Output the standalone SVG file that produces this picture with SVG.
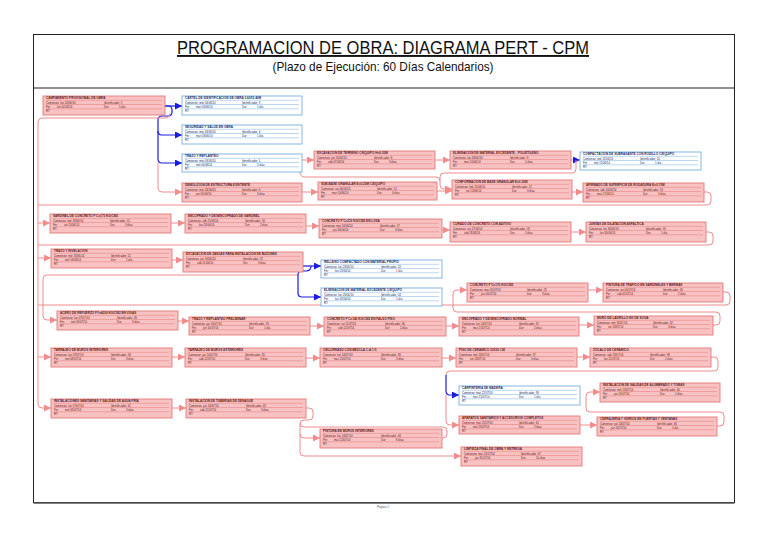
<svg xmlns="http://www.w3.org/2000/svg" width="768" height="543" viewBox="0 0 768 543">
<style>
text{font-family:"Liberation Sans",Arial,sans-serif;font-size:2.8px;fill:#5a1a1a}
.t{font-weight:bold;font-size:3.1px}
.r rect{fill:#f8c2c2;stroke:#e47a7a;stroke-width:0.9}
.r path{fill:none;stroke:#e47a7a;stroke-width:0.5}
.b rect{fill:#ffffff;stroke:#7aaee0;stroke-width:0.9}
.b path{fill:none;stroke:#7aaee0;stroke-width:0.5}
.b text{fill:#1a2a5a}
.p{fill:none;stroke:#f08c8c;stroke-width:1}
.q{fill:none;stroke:#1c1ce0;stroke-width:1.2}
.frame{fill:none;stroke:#222;stroke-width:1}
</style>
<defs>
<marker id="ap" markerUnits="userSpaceOnUse" markerWidth="8" markerHeight="8" refX="7" refY="3.5" orient="auto"><path d="M0 0L7 3.5L0 7z" fill="#f08c8c"/></marker>
<marker id="ab" markerUnits="userSpaceOnUse" markerWidth="8" markerHeight="8" refX="7" refY="3.5" orient="auto"><path d="M0 0L7 3.5L0 7z" fill="#1c1ce0"/></marker>
</defs>
<rect x="0" y="0" width="768" height="543" fill="#ffffff"/>
<rect class="frame" x="33.5" y="34.5" width="701" height="468"/>
<line x1="33.5" y1="88" x2="734.5" y2="88" stroke="#222" stroke-width="1.2"/>
<line x1="33.5" y1="503" x2="734.5" y2="503" stroke="#555" stroke-width="1.6"/>
<text x="383" y="54" text-anchor="middle" style="font-size:19px;fill:#111" textLength="412" lengthAdjust="spacingAndGlyphs" text-decoration="underline">PROGRAMACION DE OBRA: DIAGRAMA PERT - CPM</text>
<text x="383" y="71" text-anchor="middle" style="font-size:13px;fill:#111" textLength="221" lengthAdjust="spacingAndGlyphs">(Plazo de Ejecución: 60 Días Calendarios)</text>
<text x="383" y="508" text-anchor="middle" style="font-size:3px;fill:#555">Página 1</text>

<g id="connectors">
<path class="q" d="M165 106H182" marker-end="url(#ab)"/>
<path class="q" d="M165 106H168Q172 106 172 110V112Q172 116 168 116H162Q158 116 158 120V159Q158 163 162 163H182" marker-end="url(#ab)"/>
<path class="q" d="M158 131Q158 135 162 135H182" marker-end="url(#ab)"/>
<path class="p" d="M158 163V188Q158 192 162 192H182" marker-end="url(#ap)"/>
<path class="p" d="M170 113Q170 118 165 118H42Q38 118 38 122V404Q38 408 42 408H51" marker-end="url(#ap)"/>
<path class="p" d="M38 223H50" marker-end="url(#ap)"/>
<path class="p" d="M38 258H51" marker-end="url(#ap)"/>
<path class="p" d="M38 357H51" marker-end="url(#ap)"/>
<path class="p" d="M704 192H707Q711 192 711 196V201Q711 205 707 205H38"/>
<path class="p" d="M706 232H709Q713 232 713 236V241Q713 245 709 245H38"/>
<path class="p" d="M723 292H726Q730 292 730 296V301Q730 305 726 305H38"/>
<path class="p" d="M298 275H47Q43 275 43 279V316Q43 320 47 320H57" marker-end="url(#ap)"/>
<path class="p" d="M713 325H716Q720 325 720 321V316Q720 312 716 312H457Q453 312 453 308V294Q453 290 457 290H467" marker-end="url(#ap)"/>
<path class="p" d="M711 357H714Q718 357 718 361V367Q718 371 714 371H450Q446 371 446 375"/>
<path class="q" d="M446 375V391Q446 395 450 395H459" marker-end="url(#ab)"/>
<path class="p" d="M446 395V421Q446 425 450 425H459" marker-end="url(#ap)"/>
<path class="p" d="M717 426H720Q724 426 724 422V416Q724 412 720 412H590Q586 412 586 408V396Q586 392 590 392H600" marker-end="url(#ap)"/>
<path class="p" d="M306 408H309Q313 408 313 412V416Q313 420 309 420H304Q300 420 300 424V452Q300 456 304 456H461" marker-end="url(#ap)"/>
<path class="p" d="M300 434Q300 438 304 438H320" marker-end="url(#ap)"/>
<path class="p" d="M442 438H443Q447 438 447 434V431Q447 427 443 427H304Q300 427 300 423"/>
<path class="p" d="M302 160H314" marker-end="url(#ap)"/>
<path class="p" d="M435 160H450" marker-end="url(#ap)"/>
<path class="p" d="M571 160H580" marker-end="url(#ab)"/>
<path class="p" d="M576 160V169Q576 173 572 173H444Q440 173 440 177V185Q440 189 444 189H452" marker-end="url(#ap)"/>
<path class="p" d="M300 172Q300 177 305 177H436Q440 177 440 181"/>
<path class="p" d="M302 192H318" marker-end="url(#ap)"/>
<path class="p" d="M437 191H452" marker-end="url(#ap)"/>
<path class="p" d="M572 192H583" marker-end="url(#ap)"/>
<path class="p" d="M171 223H185" marker-end="url(#ap)"/>
<path class="p" d="M306 226H319" marker-end="url(#ap)"/>
<path class="p" d="M442 230H450" marker-end="url(#ap)"/>
<path class="p" d="M571 232H586" marker-end="url(#ap)"/>
<path class="p" d="M172 260H183" marker-end="url(#ap)"/>
<path class="q" d="M303 266H321" marker-end="url(#ab)"/>
<path class="q" d="M311 266Q311 271 306 271H302Q298 271 298 275V293Q298 297 302 297H321" marker-end="url(#ab)"/>
<path class="p" d="M588 290H603" marker-end="url(#ap)"/>
<path class="p" d="M178 321H189" marker-end="url(#ap)"/>
<path class="p" d="M310 326H324" marker-end="url(#ap)"/>
<path class="p" d="M446 326H459" marker-end="url(#ap)"/>
<path class="p" d="M579 325H594" marker-end="url(#ap)"/>
<path class="p" d="M172 357H185" marker-end="url(#ap)"/>
<path class="p" d="M306 358H320" marker-end="url(#ap)"/>
<path class="p" d="M442 358H456" marker-end="url(#ap)"/>
<path class="p" d="M577 357H590" marker-end="url(#ap)"/>
<path class="p" d="M172 408H186" marker-end="url(#ap)"/>
<path class="p" d="M580 425H597" marker-end="url(#ap)"/>
</g>

<g id="n1" class="r" transform="translate(43 96)"><rect width="122" height="19"/><path d="M3 4.3H119M3 8.5H119M3 12.8H119"/><text class="t" x="3" y="3.4">CAMPAMENTO PROVISIONAL DE OBRA</text><text x="3" y="7.5">Comienzo: lun 02/06/14</text><text x="61" y="7.5">Identificador: 2</text><text x="3" y="11.7">Fin:</text><text x="14" y="11.7">lun 02/06/14</text><text x="61" y="11.7">Dur:</text><text x="76" y="11.7">1 día</text><text x="3" y="16">RT:</text></g>
<g id="n2" class="b" transform="translate(182 96)"><rect width="120" height="19"/><path d="M3 4.3H117M3 8.5H117M3 12.8H117"/><text class="t" x="3" y="3.4">CARTEL DE IDENTIFICACION DE OBRA 3.60X2.40M</text><text x="3" y="7.5">Comienzo: mar 03/06/14</text><text x="60" y="7.5">Identificador: 3</text><text x="3" y="11.7">Fin:</text><text x="14" y="11.7">mar 03/06/14</text><text x="60" y="11.7">Dur:</text><text x="75" y="11.7">1 día</text><text x="3" y="16">RT:</text></g>
<g id="n3" class="b" transform="translate(182 125)"><rect width="120" height="19"/><path d="M3 4.3H117M3 8.5H117M3 12.8H117"/><text class="t" x="3" y="3.4">SEGURIDAD Y SALUD EN OBRA</text><text x="3" y="7.5">Comienzo: mar 03/06/14</text><text x="60" y="7.5">Identificador: 4</text><text x="3" y="11.7">Fin:</text><text x="14" y="11.7">mar 03/06/14</text><text x="60" y="11.7">Dur:</text><text x="75" y="11.7">1 día</text><text x="3" y="16">RT:</text></g>
<g id="n4" class="b" transform="translate(182 154)"><rect width="120" height="18"/><path d="M3 4.3H117M3 8.5H117M3 12.8H117"/><text class="t" x="3" y="3.4">TRAZO Y REPLANTEO</text><text x="3" y="7.5">Comienzo: mar 03/06/14</text><text x="60" y="7.5">Identificador: 5</text><text x="3" y="11.7">Fin:</text><text x="14" y="11.7">mié 04/06/14</text><text x="60" y="11.7">Dur:</text><text x="75" y="11.7">2 días</text><text x="3" y="16">RT:</text></g>
<g id="n5" class="r" transform="translate(182 183)"><rect width="120" height="19"/><path d="M3 4.3H117M3 8.5H117M3 12.8H117"/><text class="t" x="3" y="3.4">DEMOLICION DE ESTRUCTURA EXISTENTE</text><text x="3" y="7.5">Comienzo: mar 03/06/14</text><text x="60" y="7.5">Identificador: 6</text><text x="3" y="11.7">Fin:</text><text x="14" y="11.7">jue 05/06/14</text><text x="60" y="11.7">Dur:</text><text x="75" y="11.7">3 días</text><text x="3" y="16">RT:</text></g>
<g id="n6" class="r" transform="translate(314 151)"><rect width="121" height="18"/><path d="M3 4.3H118M3 8.5H118M3 12.8H118"/><text class="t" x="3" y="3.4">EXCAVACION DE TERRENO C/EQUIPO H=0.30M</text><text x="3" y="7.5">Comienzo: jue 05/06/14</text><text x="60" y="7.5">Identificador: 8</text><text x="3" y="11.7">Fin:</text><text x="14" y="11.7">sáb 07/06/14</text><text x="60" y="11.7">Dur:</text><text x="75" y="11.7">3 días</text><text x="3" y="16">RT:</text></g>
<g id="n7" class="r" transform="translate(450 151)"><rect width="121" height="18"/><path d="M3 4.3H118M3 8.5H118M3 12.8H118"/><text class="t" x="3" y="3.4">ELIMINACION DE MATERIAL EXCEDENTE - POLIETILENO</text><text x="3" y="7.5">Comienzo: lun 09/06/14</text><text x="60" y="7.5">Identificador: 9</text><text x="3" y="11.7">Fin:</text><text x="14" y="11.7">mar 10/06/14</text><text x="60" y="11.7">Dur:</text><text x="75" y="11.7">2 días</text><text x="3" y="16">RT:</text></g>
<g id="n8" class="b" transform="translate(580 152)"><rect width="121" height="18"/><path d="M3 4.3H118M3 8.5H118M3 12.8H118"/><text class="t" x="3" y="3.4">COMPACTACION DE SUBRASANTE CON RODILLO C/EQUIPO</text><text x="3" y="7.5">Comienzo: mié 11/06/14</text><text x="60" y="7.5">Identificador: 10</text><text x="3" y="11.7">Fin:</text><text x="14" y="11.7">mié 11/06/14</text><text x="60" y="11.7">Dur:</text><text x="75" y="11.7">1 día</text><text x="3" y="16">RT:</text></g>
<g id="n9" class="r" transform="translate(318 182)"><rect width="119" height="18"/><path d="M3 4.3H116M3 8.5H116M3 12.8H116"/><text class="t" x="3" y="3.4">SUB-BASE GRANULAR E=0.20M C/EQUIPO</text><text x="3" y="7.5">Comienzo: vie 06/06/14</text><text x="59" y="7.5">Identificador: 11</text><text x="3" y="11.7">Fin:</text><text x="14" y="11.7">mar 10/06/14</text><text x="59" y="11.7">Dur:</text><text x="74" y="11.7">4 días</text><text x="3" y="16">RT:</text></g>
<g id="n10" class="r" transform="translate(452 180)"><rect width="120" height="19"/><path d="M3 4.3H117M3 8.5H117M3 12.8H117"/><text class="t" x="3" y="3.4">CONFORMACION DE BASE GRANULAR E=0.20M</text><text x="3" y="7.5">Comienzo: mié 11/06/14</text><text x="60" y="7.5">Identificador: 12</text><text x="3" y="11.7">Fin:</text><text x="14" y="11.7">vie 13/06/14</text><text x="60" y="11.7">Dur:</text><text x="75" y="11.7">3 días</text><text x="3" y="16">RT:</text></g>
<g id="n11" class="r" transform="translate(583 183)"><rect width="121" height="19"/><path d="M3 4.3H118M3 8.5H118M3 12.8H118"/><text class="t" x="3" y="3.4">AFIRMADO DE SUPERFICIE DE RODADURA E=0.15M</text><text x="3" y="7.5">Comienzo: sáb 14/06/14</text><text x="60" y="7.5">Identificador: 13</text><text x="3" y="11.7">Fin:</text><text x="14" y="11.7">mar 17/06/14</text><text x="60" y="11.7">Dur:</text><text x="75" y="11.7">3 días</text><text x="3" y="16">RT:</text></g>
<g id="n12" class="r" transform="translate(50 214)"><rect width="121" height="19"/><path d="M3 4.3H118M3 8.5H118M3 12.8H118"/><text class="t" x="3" y="3.4">SARDINEL DE CONCRETO F'C=175 KG/CM2</text><text x="3" y="7.5">Comienzo: mié 18/06/14</text><text x="60" y="7.5">Identificador: 15</text><text x="3" y="11.7">Fin:</text><text x="14" y="11.7">vie 20/06/14</text><text x="60" y="11.7">Dur:</text><text x="75" y="11.7">3 días</text><text x="3" y="16">RT:</text></g>
<g id="n13" class="r" transform="translate(185 214)"><rect width="121" height="19"/><path d="M3 4.3H118M3 8.5H118M3 12.8H118"/><text class="t" x="3" y="3.4">ENCOFRADO Y DESENCOFRADO DE SARDINEL</text><text x="3" y="7.5">Comienzo: sáb 21/06/14</text><text x="60" y="7.5">Identificador: 16</text><text x="3" y="11.7">Fin:</text><text x="14" y="11.7">lun 23/06/14</text><text x="60" y="11.7">Dur:</text><text x="75" y="11.7">2 días</text><text x="3" y="16">RT:</text></g>
<g id="n14" class="r" transform="translate(319 219)"><rect width="123" height="19"/><path d="M3 4.3H120M3 8.5H120M3 12.8H120"/><text class="t" x="3" y="3.4">CONCRETO F'C=210 KG/CM2 EN LOSA</text><text x="3" y="7.5">Comienzo: mar 24/06/14</text><text x="61" y="7.5">Identificador: 17</text><text x="3" y="11.7">Fin:</text><text x="14" y="11.7">jue 26/06/14</text><text x="61" y="11.7">Dur:</text><text x="76" y="11.7">3 días</text><text x="3" y="16">RT:</text></g>
<g id="n15" class="r" transform="translate(450 222)"><rect width="121" height="20"/><path d="M3 4.3H118M3 8.5H118M3 12.8H118"/><text class="t" x="3" y="3.4">CURADO DE CONCRETO CON ADITIVO</text><text x="3" y="7.5">Comienzo: vie 27/06/14</text><text x="60" y="7.5">Identificador: 18</text><text x="3" y="11.7">Fin:</text><text x="14" y="11.7">sáb 28/06/14</text><text x="60" y="11.7">Dur:</text><text x="75" y="11.7">2 días</text><text x="3" y="16">RT:</text></g>
<g id="n16" class="r" transform="translate(586 222)"><rect width="120" height="20"/><path d="M3 4.3H117M3 8.5H117M3 12.8H117"/><text class="t" x="3" y="3.4">JUNTAS DE DILATACION ASFALTICA</text><text x="3" y="7.5">Comienzo: lun 30/06/14</text><text x="60" y="7.5">Identificador: 19</text><text x="3" y="11.7">Fin:</text><text x="14" y="11.7">lun 30/06/14</text><text x="60" y="11.7">Dur:</text><text x="75" y="11.7">1 día</text><text x="3" y="16">RT:</text></g>
<g id="n17" class="r" transform="translate(51 249)"><rect width="121" height="19"/><path d="M3 4.3H118M3 8.5H118M3 12.8H118"/><text class="t" x="3" y="3.4">TRAZO Y NIVELACION</text><text x="3" y="7.5">Comienzo: mié 18/06/14</text><text x="60" y="7.5">Identificador: 21</text><text x="3" y="11.7">Fin:</text><text x="14" y="11.7">mié 18/06/14</text><text x="60" y="11.7">Dur:</text><text x="75" y="11.7">1 día</text><text x="3" y="16">RT:</text></g>
<g id="n18" class="r" transform="translate(183 252)"><rect width="120" height="20"/><path d="M3 4.3H117M3 8.5H117M3 12.8H117"/><text class="t" x="3" y="3.4">EXCAVACION DE ZANJAS PARA INSTALACION DE BUZONES</text><text x="3" y="7.5">Comienzo: jue 19/06/14</text><text x="60" y="7.5">Identificador: 22</text><text x="3" y="11.7">Fin:</text><text x="14" y="11.7">sáb 21/06/14</text><text x="60" y="11.7">Dur:</text><text x="75" y="11.7">3 días</text><text x="3" y="16">RT:</text></g>
<g id="n19" class="b" transform="translate(321 260)"><rect width="121" height="18"/><path d="M3 4.3H118M3 8.5H118M3 12.8H118"/><text class="t" x="3" y="3.4">RELLENO COMPACTADO CON MATERIAL PROPIO</text><text x="3" y="7.5">Comienzo: lun 23/06/14</text><text x="60" y="7.5">Identificador: 23</text><text x="3" y="11.7">Fin:</text><text x="14" y="11.7">lun 23/06/14</text><text x="60" y="11.7">Dur:</text><text x="75" y="11.7">1 día</text><text x="3" y="16">RT:</text></g>
<g id="n20" class="b" transform="translate(321 288)"><rect width="121" height="18"/><path d="M3 4.3H118M3 8.5H118M3 12.8H118"/><text class="t" x="3" y="3.4">ELIMINACION DE MATERIAL EXCEDENTE C/EQUIPO</text><text x="3" y="7.5">Comienzo: lun 23/06/14</text><text x="60" y="7.5">Identificador: 24</text><text x="3" y="11.7">Fin:</text><text x="14" y="11.7">lun 23/06/14</text><text x="60" y="11.7">Dur:</text><text x="75" y="11.7">1 día</text><text x="3" y="16">RT:</text></g>
<g id="n21" class="r" transform="translate(467 283)"><rect width="121" height="19"/><path d="M3 4.3H118M3 8.5H118M3 12.8H118"/><text class="t" x="3" y="3.4">CONCRETO F'C=175 KG/CM2</text><text x="3" y="7.5">Comienzo: mar 01/07/14</text><text x="60" y="7.5">Identificador: 25</text><text x="3" y="11.7">Fin:</text><text x="14" y="11.7">jue 03/07/14</text><text x="60" y="11.7">Dur:</text><text x="75" y="11.7">3 días</text><text x="3" y="16">RT:</text></g>
<g id="n22" class="r" transform="translate(603 283)"><rect width="120" height="19"/><path d="M3 4.3H117M3 8.5H117M3 12.8H117"/><text class="t" x="3" y="3.4">PINTURA DE TRAFICO EN SARDINELES Y BERMAS</text><text x="3" y="7.5">Comienzo: vie 04/07/14</text><text x="60" y="7.5">Identificador: 26</text><text x="3" y="11.7">Fin:</text><text x="14" y="11.7">sáb 05/07/14</text><text x="60" y="11.7">Dur:</text><text x="75" y="11.7">2 días</text><text x="3" y="16">RT:</text></g>
<g id="n23" class="r" transform="translate(57 311)"><rect width="121" height="19"/><path d="M3 4.3H118M3 8.5H118M3 12.8H118"/><text class="t" x="3" y="3.4">ACERO DE REFUERZO FY=4200 KG/CM2 EN VIGAS</text><text x="3" y="7.5">Comienzo: lun 07/07/14</text><text x="60" y="7.5">Identificador: 28</text><text x="3" y="11.7">Fin:</text><text x="14" y="11.7">mié 09/07/14</text><text x="60" y="11.7">Dur:</text><text x="75" y="11.7">3 días</text><text x="3" y="16">RT:</text></g>
<g id="n24" class="r" transform="translate(189 317)"><rect width="121" height="18"/><path d="M3 4.3H118M3 8.5H118M3 12.8H118"/><text class="t" x="3" y="3.4">TRAZO Y REPLANTEO PRELIMINAR</text><text x="3" y="7.5">Comienzo: jue 10/07/14</text><text x="60" y="7.5">Identificador: 29</text><text x="3" y="11.7">Fin:</text><text x="14" y="11.7">jue 10/07/14</text><text x="60" y="11.7">Dur:</text><text x="75" y="11.7">1 día</text><text x="3" y="16">RT:</text></g>
<g id="n25" class="r" transform="translate(324 317)"><rect width="122" height="19"/><path d="M3 4.3H119M3 8.5H119M3 12.8H119"/><text class="t" x="3" y="3.4">CONCRETO F'C=140 KG/CM2 EN FALSO PISO</text><text x="3" y="7.5">Comienzo: vie 11/07/14</text><text x="61" y="7.5">Identificador: 30</text><text x="3" y="11.7">Fin:</text><text x="14" y="11.7">sáb 12/07/14</text><text x="61" y="11.7">Dur:</text><text x="76" y="11.7">2 días</text><text x="3" y="16">RT:</text></g>
<g id="n26" class="r" transform="translate(459 317)"><rect width="120" height="19"/><path d="M3 4.3H117M3 8.5H117M3 12.8H117"/><text class="t" x="3" y="3.4">ENCOFRADO Y DESENCOFRADO NORMAL</text><text x="3" y="7.5">Comienzo: lun 14/07/14</text><text x="60" y="7.5">Identificador: 31</text><text x="3" y="11.7">Fin:</text><text x="14" y="11.7">mar 15/07/14</text><text x="60" y="11.7">Dur:</text><text x="75" y="11.7">2 días</text><text x="3" y="16">RT:</text></g>
<g id="n27" class="r" transform="translate(594 316)"><rect width="119" height="19"/><path d="M3 4.3H116M3 8.5H116M3 12.8H116"/><text class="t" x="3" y="3.4">MURO DE LADRILLO KK DE SOGA</text><text x="3" y="7.5">Comienzo: mié 16/07/14</text><text x="59" y="7.5">Identificador: 32</text><text x="3" y="11.7">Fin:</text><text x="14" y="11.7">vie 18/07/14</text><text x="59" y="11.7">Dur:</text><text x="74" y="11.7">3 días</text><text x="3" y="16">RT:</text></g>
<g id="n28" class="r" transform="translate(51 348)"><rect width="121" height="19"/><path d="M3 4.3H118M3 8.5H118M3 12.8H118"/><text class="t" x="3" y="3.4">TARRAJEO DE MUROS INTERIORES</text><text x="3" y="7.5">Comienzo: lun 07/07/14</text><text x="60" y="7.5">Identificador: 34</text><text x="3" y="11.7">Fin:</text><text x="14" y="11.7">mié 09/07/14</text><text x="60" y="11.7">Dur:</text><text x="75" y="11.7">3 días</text><text x="3" y="16">RT:</text></g>
<g id="n29" class="r" transform="translate(185 348)"><rect width="121" height="19"/><path d="M3 4.3H118M3 8.5H118M3 12.8H118"/><text class="t" x="3" y="3.4">TARRAJEO DE MUROS EXTERIORES</text><text x="3" y="7.5">Comienzo: jue 10/07/14</text><text x="60" y="7.5">Identificador: 35</text><text x="3" y="11.7">Fin:</text><text x="14" y="11.7">sáb 12/07/14</text><text x="60" y="11.7">Dur:</text><text x="75" y="11.7">3 días</text><text x="3" y="16">RT:</text></g>
<g id="n30" class="r" transform="translate(320 348)"><rect width="122" height="19"/><path d="M3 4.3H119M3 8.5H119M3 12.8H119"/><text class="t" x="3" y="3.4">CIELORRASO CON MEZCLA C:A 1:5</text><text x="3" y="7.5">Comienzo: lun 14/07/14</text><text x="61" y="7.5">Identificador: 36</text><text x="3" y="11.7">Fin:</text><text x="14" y="11.7">mar 15/07/14</text><text x="61" y="11.7">Dur:</text><text x="76" y="11.7">2 días</text><text x="3" y="16">RT:</text></g>
<g id="n31" class="r" transform="translate(456 348)"><rect width="121" height="19"/><path d="M3 4.3H118M3 8.5H118M3 12.8H118"/><text class="t" x="3" y="3.4">PISO DE CERAMICO 30X30 CM</text><text x="3" y="7.5">Comienzo: mié 16/07/14</text><text x="60" y="7.5">Identificador: 37</text><text x="3" y="11.7">Fin:</text><text x="14" y="11.7">vie 18/07/14</text><text x="60" y="11.7">Dur:</text><text x="75" y="11.7">3 días</text><text x="3" y="16">RT:</text></g>
<g id="n32" class="r" transform="translate(590 348)"><rect width="121" height="19"/><path d="M3 4.3H118M3 8.5H118M3 12.8H118"/><text class="t" x="3" y="3.4">ZOCALO DE CERAMICO</text><text x="3" y="7.5">Comienzo: sáb 19/07/14</text><text x="60" y="7.5">Identificador: 38</text><text x="3" y="11.7">Fin:</text><text x="14" y="11.7">lun 21/07/14</text><text x="60" y="11.7">Dur:</text><text x="75" y="11.7">2 días</text><text x="3" y="16">RT:</text></g>
<g id="n33" class="b" transform="translate(459 386)"><rect width="121" height="19"/><path d="M3 4.3H118M3 8.5H118M3 12.8H118"/><text class="t" x="3" y="3.4">CARPINTERIA DE MADERA</text><text x="3" y="7.5">Comienzo: mar 22/07/14</text><text x="60" y="7.5">Identificador: 39</text><text x="3" y="11.7">Fin:</text><text x="14" y="11.7">mar 22/07/14</text><text x="60" y="11.7">Dur:</text><text x="75" y="11.7">1 día</text><text x="3" y="16">RT:</text></g>
<g id="n34" class="r" transform="translate(600 383)"><rect width="120" height="19"/><path d="M3 4.3H117M3 8.5H117M3 12.8H117"/><text class="t" x="3" y="3.4">INSTALACION DE SALIDAS DE ALUMBRADO Y TOMAS</text><text x="3" y="7.5">Comienzo: mié 23/07/14</text><text x="60" y="7.5">Identificador: 40</text><text x="3" y="11.7">Fin:</text><text x="14" y="11.7">jue 24/07/14</text><text x="60" y="11.7">Dur:</text><text x="75" y="11.7">2 días</text><text x="3" y="16">RT:</text></g>
<g id="n35" class="r" transform="translate(51 399)"><rect width="121" height="19"/><path d="M3 4.3H118M3 8.5H118M3 12.8H118"/><text class="t" x="3" y="3.4">INSTALACIONES SANITARIAS Y SALIDAS DE AGUA FRIA</text><text x="3" y="7.5">Comienzo: lun 07/07/14</text><text x="60" y="7.5">Identificador: 42</text><text x="3" y="11.7">Fin:</text><text x="14" y="11.7">mié 09/07/14</text><text x="60" y="11.7">Dur:</text><text x="75" y="11.7">3 días</text><text x="3" y="16">RT:</text></g>
<g id="n36" class="r" transform="translate(186 399)"><rect width="120" height="19"/><path d="M3 4.3H117M3 8.5H117M3 12.8H117"/><text class="t" x="3" y="3.4">INSTALACION DE TUBERIAS DE DESAGUE</text><text x="3" y="7.5">Comienzo: jue 10/07/14</text><text x="60" y="7.5">Identificador: 43</text><text x="3" y="11.7">Fin:</text><text x="14" y="11.7">sáb 12/07/14</text><text x="60" y="11.7">Dur:</text><text x="75" y="11.7">3 días</text><text x="3" y="16">RT:</text></g>
<g id="n37" class="r" transform="translate(320 429)"><rect width="122" height="19"/><path d="M3 4.3H119M3 8.5H119M3 12.8H119"/><text class="t" x="3" y="3.4">PINTURA EN MUROS INTERIORES</text><text x="3" y="7.5">Comienzo: lun 14/07/14</text><text x="61" y="7.5">Identificador: 44</text><text x="3" y="11.7">Fin:</text><text x="14" y="11.7">mar 22/07/14</text><text x="61" y="11.7">Dur:</text><text x="76" y="11.7">8 días</text><text x="3" y="16">RT:</text></g>
<g id="n38" class="r" transform="translate(459 416)"><rect width="121" height="18"/><path d="M3 4.3H118M3 8.5H118M3 12.8H118"/><text class="t" x="3" y="3.4">APARATOS SANITARIOS Y ACCESORIOS COMPLETOS</text><text x="3" y="7.5">Comienzo: mar 22/07/14</text><text x="60" y="7.5">Identificador: 45</text><text x="3" y="11.7">Fin:</text><text x="14" y="11.7">mié 23/07/14</text><text x="60" y="11.7">Dur:</text><text x="75" y="11.7">2 días</text><text x="3" y="16">RT:</text></g>
<g id="n39" class="r" transform="translate(597 417)"><rect width="120" height="19"/><path d="M3 4.3H117M3 8.5H117M3 12.8H117"/><text class="t" x="3" y="3.4">CERRAJERIA Y VIDRIOS EN PUERTAS Y VENTANAS</text><text x="3" y="7.5">Comienzo: jue 24/07/14</text><text x="60" y="7.5">Identificador: 46</text><text x="3" y="11.7">Fin:</text><text x="14" y="11.7">jue 24/07/14</text><text x="60" y="11.7">Dur:</text><text x="75" y="11.7">1 día</text><text x="3" y="16">RT:</text></g>
<g id="n40" class="r" transform="translate(461 447)"><rect width="121" height="19"/><path d="M3 4.3H118M3 8.5H118M3 12.8H118"/><text class="t" x="3" y="3.4">LIMPIEZA FINAL DE OBRA Y ENTREGA</text><text x="3" y="7.5">Comienzo: mar 22/07/14</text><text x="60" y="7.5">Identificador: 47</text><text x="3" y="11.7">Fin:</text><text x="14" y="11.7">jue 31/07/14</text><text x="60" y="11.7">Dur:</text><text x="75" y="11.7">10 días</text><text x="3" y="16">RT:</text></g>
</svg>
